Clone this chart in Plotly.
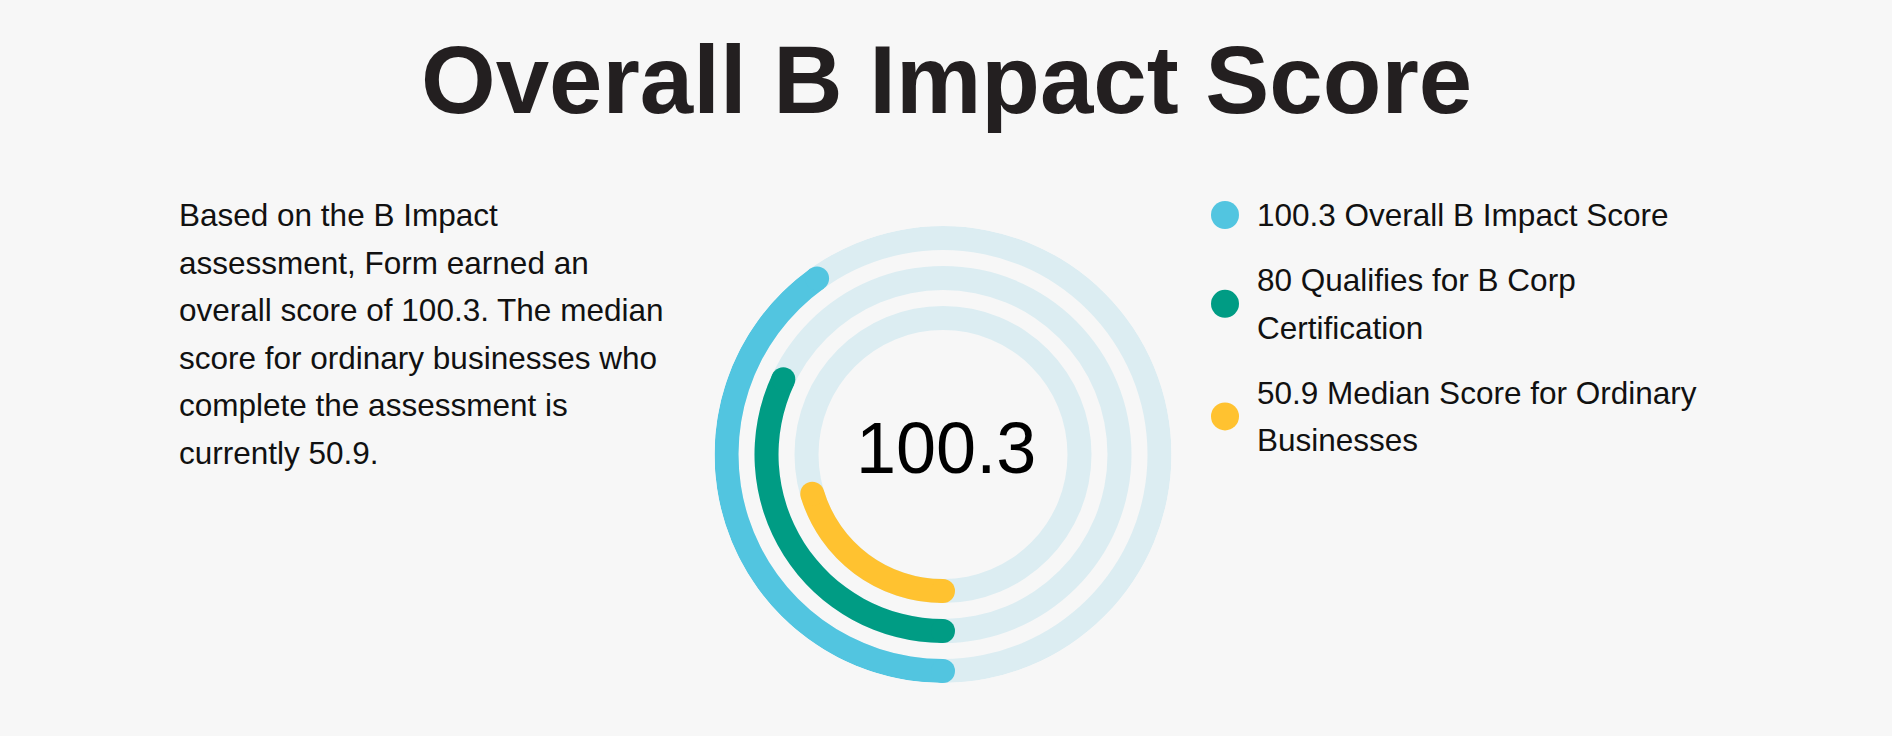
import plotly.graph_objects as go

# data
scale_max = 250
labels = ["100.3 Overall B Impact Score", "80 Qualifies for B Corp Certification",
          "50.9 Median Score for Ordinary Businesses"]
scores = [100.3, 80, 50.9]
colors = ["#52c5e0", "#009c84", "#ffc230"]
legend_lines = [["100.3 Overall B Impact Score"],
                ["80 Qualifies for B Corp", "Certification"],
                ["50.9 Median Score for Ordinary", "Businesses"]]
body_lines = ["Based on the B Impact",
              "assessment, Form earned an",
              "overall score of 100.3. The median",
              "score for ordinary businesses who",
              "complete the assessment is",
              "currently 50.9."]
center_label = "100.3"

W, H = 1892, 736
BG = "#f7f7f7"
TRACK = "#dcedf2"
FONT = "Liberation Sans, Arial, sans-serif"
TXT = 31.5

# ring geometry (radial units == pixels)
R_OUT = 228.5
thick = 24
gap = 16
cx, cy = 943, 454.5

fig = go.Figure()

for i, (s, c) in enumerate(zip(scores, colors)):
    base = R_OUT - thick - i * (thick + gap)
    mid = base + thick / 2
    ang = s / scale_max * 360
    # background track
    fig.add_trace(go.Barpolar(r=[thick], base=[base], theta=[180], width=[360],
                              marker=dict(color=TRACK, line=dict(width=0)),
                              hoverinfo="skip", showlegend=False))
    # score arc
    fig.add_trace(go.Barpolar(r=[thick], base=[base], theta=[ang / 2], width=[ang],
                              marker=dict(color=c, line=dict(width=0)),
                              name=labels[i], showlegend=False))
    # rounded caps
    fig.add_trace(go.Scatterpolar(r=[mid, mid], theta=[0, ang], mode="markers",
                                  marker=dict(size=thick, color=c, line=dict(width=0)),
                                  hoverinfo="skip", showlegend=False))

fig.update_layout(
    width=W, height=H,
    paper_bgcolor=BG, plot_bgcolor=BG,
    margin=dict(l=0, r=0, t=0, b=0),
    polar=dict(
        domain=dict(x=[(cx - R_OUT) / W, (cx + R_OUT) / W],
                    y=[(H - cy - R_OUT) / H, (H - cy + R_OUT) / H]),
        bgcolor=BG,
        radialaxis=dict(range=[0, R_OUT], visible=False, showgrid=False),
        angularaxis=dict(rotation=-90, direction="clockwise", visible=False,
                         showgrid=False),
        barmode="overlay",
    ),
)

ann = []
ann.append(dict(text="<b>Overall B Impact Score</b>", x=0.5, y=1 - 79 / H,
                xref="paper", yref="paper", xanchor="center", yanchor="middle",
                showarrow=False, font=dict(family=FONT, size=96, color="#231f20")))
ann.append(dict(text=center_label, x=946 / W, y=1 - 448 / H, xref="paper", yref="paper",
                xanchor="center", yanchor="middle", showarrow=False,
                font=dict(family=FONT, size=72, color="#000000")))

line_h = 47.6
for k, line in enumerate(body_lines):
    ann.append(dict(text=line, x=177 / W, y=1 - (215 + k * line_h) / H,
                    xref="paper", yref="paper", xanchor="left", yanchor="middle",
                    showarrow=False, font=dict(family=FONT, size=TXT, color="#111111")))

row_y = 215
for i, lines in enumerate(legend_lines):
    ys = [row_y + j * line_h for j in range(len(lines))]
    dot_y = sum(ys) / len(ys)
    fig.add_trace(go.Scatter(x=[1225], y=[H - dot_y], mode="markers",
                             marker=dict(size=28, color=colors[i]),
                             hoverinfo="skip", showlegend=False))
    for j, t in enumerate(lines):
        ann.append(dict(text=t, x=1255 / W, y=1 - ys[j] / H, xref="paper", yref="paper",
                        xanchor="left", yanchor="middle", showarrow=False,
                        font=dict(family=FONT, size=TXT, color="#111111")))
    row_y = ys[-1] + 65

fig.update_layout(
    annotations=ann,
    xaxis=dict(range=[0, W], visible=False, domain=[0, 1], fixedrange=True),
    yaxis=dict(range=[0, H], visible=False, domain=[0, 1], fixedrange=True),
)

fig.write_html("out.html", config={"displayModeBar": False},
               post_script="document.body.style.margin='0px';"
                           "document.body.style.background='#f7f7f7';")
